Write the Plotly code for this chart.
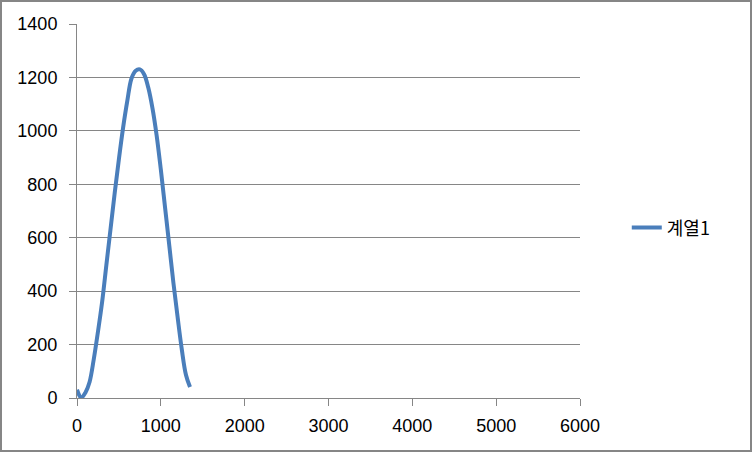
import plotly.graph_objects as go

# values
x_vals = [0, 50, 100, 150, 200, 250, 300, 350, 400, 450, 500, 550, 600, 650, 700,
          750, 800, 850, 900, 950, 1000, 1050, 1100, 1150, 1200, 1250, 1300, 1348]
y_vals = [31, 1, 20, 60, 145, 248, 360, 497, 633, 768, 895, 1012, 1112, 1196, 1225,
          1230, 1212, 1162, 1085, 983, 855, 714, 573, 431, 303, 182, 86, 41]
series_name = "계열1"

W, H = 752, 452
L, R, T, B = 77, 172, 24, 54
pw, ph = W - L - R, H - T - B
grey = "#868686"
font = dict(family="Liberation Sans, Noto Sans CJK KR", size=18, color="black")

fig = go.Figure()
fig.add_trace(go.Scatter(
    x=x_vals, y=y_vals, mode="lines", name=series_name,
    line=dict(color="#4a7ebb", width=4, shape="spline", smoothing=1.0),
))

fig.update_layout(
    width=W, height=H,
    margin=dict(l=L, r=R, t=T, b=B),
    paper_bgcolor="white", plot_bgcolor="white",
    font=font,
    showlegend=True,
    legend=dict(x=1.093, y=0.455, xanchor="left", yanchor="middle",
                font=dict(family="Noto Sans CJK KR", size=18, color="black")),
    xaxis=dict(range=[0, 6000], dtick=1000, showgrid=False, zeroline=False,
               showline=True, linecolor=grey, linewidth=1,
               ticks="outside", ticklen=7, tickcolor=grey, tickformat="d",
               ticklabelstandoff=4),
    yaxis=dict(range=[0, 1400], dtick=200, showgrid=True, gridcolor=grey, gridwidth=1,
               zeroline=False, showline=True, linecolor=grey, linewidth=1,
               ticks="outside", ticklen=7, tickcolor=grey, tickformat="d",
               ticklabelstandoff=8),
)

# outer chart border
fig.add_shape(type="rect", xref="paper", yref="paper",
              x0=-(L - 1) / pw, x1=1 + (R - 1) / pw,
              y0=-(B - 1) / ph, y1=1 + (T - 1) / ph,
              line=dict(color=grey, width=2), layer="below")

# page has a default body margin; drop it so the chart sits at the window corner
fig.write_html("out.html", config={"displayModeBar": False},
               post_script="document.body.style.margin='0';")
